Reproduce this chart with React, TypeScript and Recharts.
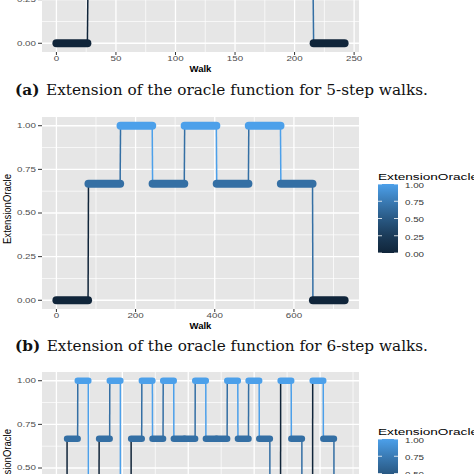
import { CartesianGrid, Line, LineChart, XAxis, YAxis } from 'recharts'

// oracle value of each block of walks, read left to right
const blocksA = [0, 0.667, 1, 0.667, 1, 0.667, 1, 0.667, 0]
const blocksB = [0, 0.667, 1, 0.667, 1, 0.667, 1, 0.667, 0]
const blocksC = [
  0, 0.667, 1, 0, 0.667, 1, 0, 0.667, 1,
  0.667, 1, 0.667, 0.667, 1, 0.667, 0.667, 1, 0.667,
  1, 0.667, 0, 1, 0.667, 0, 1, 0.667, 0,
]
const walksPerBlockA = 27
const walksPerBlockB = 81
const walksPerBlockC = 81

const xTicksA = [0, 50, 100, 150, 200, 250]
const xMinorA = [25, 75, 125, 175, 225]
const xTicksB = [0, 200, 400, 600]
const xMinorB = [100, 300, 500, 700]
const xTicksC = [0, 500, 1000, 1500, 2000]
const xMinorC = [250, 750, 1250, 1750, 2250]
const yTicks = [0, 0.25, 0.5, 0.75, 1]
const yMinor = [0.125, 0.375, 0.625, 0.875]
const legendTicks = [0, 0.25, 0.5, 0.75, 1]

const LOW = [16, 37, 58]
const HIGH = [76, 160, 234]

function oracleColour(v: number) {
  const t = Math.pow(v, 1.25)
  const c = LOW.map((l, i) => Math.round(l + (HIGH[i] - l) * t))
  return `rgb(${c[0]},${c[1]},${c[2]})`
}

const SANS = '"Liberation Sans", Arial, sans-serif'
// the figure was scaled wider than tall, so its text looks stretched
const STRETCH = 1.4

function StretchText({ x, y, dy, anchor, size, fill, children }: any) {
  return (
    <text
      x={x}
      y={y}
      dy={dy}
      textAnchor={anchor}
      fontFamily={SANS}
      fontSize={size}
      fill={fill}
      transform={`translate(${x} ${y}) scale(${STRETCH} 1) translate(${-x} ${-y})`}
    >
      {children}
    </text>
  )
}

function XTick(props: any) {
  return (
    <StretchText x={props.x} y={props.y} dy="0.71em" anchor="middle" size={7} fill="#4d4d4d">
      {props.payload.value}
    </StretchText>
  )
}

function YTick(props: any) {
  return (
    <StretchText x={props.x} y={props.y} dy="0.35em" anchor="end" size={7} fill="#4d4d4d">
      {Number(props.payload.value).toFixed(2)}
    </StretchText>
  )
}

function ColourBar({ top }: { top: number }) {
  const barTop = 14
  const barH = 69
  return (
    <svg width={104} height={100} style={{ position: 'absolute', left: 370, top }}>
      <defs>
        <linearGradient id={`bar${top}`} x1="0" y1="1" x2="0" y2="0">
          {legendTicks.map((t) => (
            <stop key={t} offset={t} stopColor={oracleColour(t)} />
          ))}
        </linearGradient>
      </defs>
      <text x={8} y={9.5} fontFamily={SANS} fontSize={8.5} fill="#000" textLength={100} lengthAdjust="spacingAndGlyphs">
        ExtensionOracle
      </text>
      <rect x={8} y={barTop} width={20} height={barH} fill={`url(#bar${top})`} />
      {legendTicks.map((t) => {
        const y = barTop + barH * (1 - t)
        return (
          <g key={t}>
            <line x1={8} x2={12} y1={y} y2={y} stroke="#fff" strokeWidth={0.8} />
            <line x1={24} x2={28} y1={y} y2={y} stroke="#fff" strokeWidth={0.8} />
            <StretchText x={35} y={y + 1.5} dy="0.35em" anchor="start" size={7} fill="#333">
              {t.toFixed(2)}
            </StretchText>
          </g>
        )
      })}
    </svg>
  )
}

function YTitle(props: any) {
  const { viewBox } = props
  const cy = viewBox.y + viewBox.height / 2 - 4
  return (
    <text
      x={10.5}
      y={cy}
      transform={`rotate(-90 10.5 ${cy})`}
      textAnchor="middle"
      fontFamily={SANS}
      fontSize={11}
      textLength={70}
      lengthAdjust="spacingAndGlyphs"
      fill="#000"
    >
      ExtensionOracle
    </text>
  )
}

type PanelProps = {
  blocks: number[]
  walksPerBlock: number
  xTicks: number[]
  xMinor: number[]
  top: number
  dotSize: number
}

function OraclePanel({ blocks, walksPerBlock, xTicks, xMinor, top, dotSize }: PanelProps) {
  const last = blocks.length * walksPerBlock - 1
  const pad = last * 0.05
  const bars = blocks.map((v, i) => ({
    v,
    data: [
      { walk: i * walksPerBlock, v },
      { walk: (i + 1) * walksPerBlock - 1, v },
    ],
  }))
  const steps = blocks
    .slice(0, -1)
    .map((v, i) => ({
      v,
      next: blocks[i + 1],
      data: [
        { walk: (i + 1) * walksPerBlock - 1, v },
        { walk: (i + 1) * walksPerBlock, v: blocks[i + 1] },
      ],
    }))
    .filter((s) => s.v !== s.next)

  return (
    <div style={{ position: 'absolute', left: 0, top }}>
      <LineChart width={474} height={220} margin={{ top: 0, right: 115, bottom: 0, left: 0 }}>
        <CartesianGrid
          fill="#E6E6E6"
          stroke="#fff"
          strokeWidth={0.7}
          horizontalValues={yMinor}
          verticalValues={xMinor}
        />
        <CartesianGrid stroke="#fff" strokeWidth={1.3} horizontalValues={yTicks} verticalValues={xTicks} />
        <XAxis
          type="number"
          dataKey="walk"
          domain={[-pad, last + pad]}
          allowDataOverflow
          ticks={xTicks}
          height={28}
          axisLine={false}
          tickSize={3}
          tickMargin={1}
          tickLine={{ stroke: '#333' }}
          tick={XTick}
          label={{
            value: 'Walk',
            position: 'insideBottom',
            offset: 8,
            fontSize: 9.5,
            fontWeight: 'bold',
            fill: '#000',
            fontFamily: SANS,
          }}
        />
        <YAxis
          type="number"
          domain={[-0.05, 1.05]}
          allowDataOverflow
          ticks={yTicks}
          width={42}
          axisLine={false}
          tickSize={4}
          tickMargin={2}
          tickLine={{ stroke: '#333' }}
          tick={YTick}
          label={{ content: YTitle }}
        />
        {steps.map((s, i) => (
          <Line
            key={`s${i}`}
            data={s.data}
            dataKey="v"
            stroke={oracleColour(s.v)}
            strokeWidth={1.5}
            dot={false}
            activeDot={false}
            isAnimationActive={false}
          />
        ))}
        {bars.map((b, i) => (
          <Line
            key={`b${i}`}
            data={b.data}
            dataKey="v"
            stroke={oracleColour(b.v)}
            strokeWidth={dotSize}
            strokeLinecap="round"
            dot={false}
            activeDot={false}
            isAnimationActive={false}
          />
        ))}
      </LineChart>
      <ColourBar top={53} />
    </div>
  )
}

function Caption({ top, tag, text }: { top: number; tag: string; text: string }) {
  return (
    <svg width={474} height={24} style={{ position: 'absolute', left: 0, top }}>
      <text x={15} y={18} fontFamily='"DejaVu Serif", serif' fontSize={14} fill="#111" textLength={413} lengthAdjust="spacingAndGlyphs">
        <tspan fontWeight="bold">{tag}</tspan>
        <tspan dx={6}>{text}</tspan>
      </text>
    </svg>
  )
}

export default function App() {
  return (
    <div
      style={{
        position: 'fixed',
        left: 0,
        top: 0,
        width: 474,
        height: 474,
        overflow: 'hidden',
        background: '#fff',
      }}
    >
      <OraclePanel blocks={blocksA} walksPerBlock={walksPerBlockA} xTicks={xTicksA} xMinor={xMinorA} top={-140} dotSize={8} />
      <Caption top={77} tag="(a)" text="Extension of the oracle function for 5-step walks." />
      <OraclePanel blocks={blocksB} walksPerBlock={walksPerBlockB} xTicks={xTicksB} xMinor={xMinorB} top={116.5} dotSize={8} />
      <Caption top={333} tag="(b)" text="Extension of the oracle function for 6-step walks." />
      <OraclePanel blocks={blocksC} walksPerBlock={walksPerBlockC} xTicks={xTicksC} xMinor={xMinorC} top={372.3} dotSize={6.5} />
    </div>
  )
}
